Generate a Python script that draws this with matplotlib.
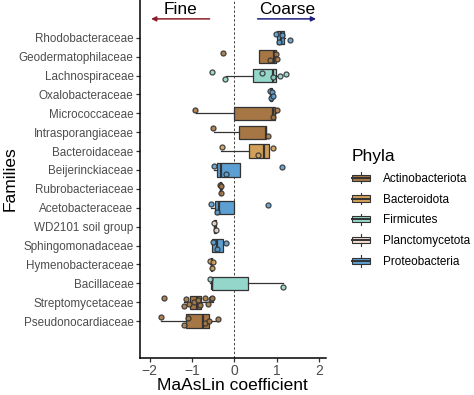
import numpy as np
import matplotlib
matplotlib.use("Agg")
import matplotlib.pyplot as plt
from matplotlib.patches import Patch, Rectangle
from matplotlib.lines import Line2D
from matplotlib.legend_handler import HandlerBase

plt.rcParams['font.family'] = ['Liberation Sans', 'DejaVu Sans']

# families, top to bottom
families = ["Rhodobacteraceae", "Geodermatophilaceae", "Lachnospiraceae", "Oxalobacteraceae",
            "Micrococcaceae", "Intrasporangiaceae", "Bacteroidaceae", "Beijerinckiaceae",
            "Rubrobacteriaceae", "Acetobacteraceae", "WD2101 soil group", "Sphingomonadaceae",
            "Hymenobacteraceae", "Bacillaceae", "Streptomycetaceae", "Pseudonocardiaceae"]
phylum = ["Proteobacteria", "Actinobacteriota", "Firmicutes", "Proteobacteria",
          "Actinobacteriota", "Actinobacteriota", "Bacteroidota", "Proteobacteria",
          "Actinobacteriota", "Proteobacteria", "Planctomycetota", "Proteobacteria",
          "Bacteroidota", "Firmicutes", "Actinobacteriota", "Actinobacteriota"]

# box stats
q1 = [1.01, 0.58, 0.44, 0.85, 0.00, 0.11, 0.34, -0.41, -0.34, -0.45, -0.48, -0.52, -0.56, -0.54, -1.05, -1.15]
med = [1.10, 0.93, 0.91, 0.87, 0.91, 0.74, 0.69, -0.32, -0.32, -0.36, -0.46, -0.41, -0.54, -0.52, -0.88, -0.74]
q3 = [1.18, 0.99, 0.97, 0.89, 0.96, 0.75, 0.81, 0.12, -0.31, -0.01, -0.44, -0.27, -0.52, 0.32, -0.78, -0.60]
wlo = [1.00, 0.58, -0.20, 0.84, -0.91, -0.49, -0.31, -0.47, -0.35, -0.56, -0.49, -0.52, -0.58, -0.57, -1.19, -1.74]
whi = [1.19, 0.99, 1.00, 0.90, 0.97, 0.75, 0.81, 0.12, -0.30, -0.01, -0.43, -0.27, -0.50, 1.14, -0.50, -0.39]

# sample points
points = [
    [0.97, 1.04, 1.12, 1.32],
    [-0.26, 0.85, 0.97, 1.0],
    [-0.54, -0.22, 0.65, 0.9, 1.07, 1.22],
    [0.84, 0.86, 0.88, 0.9],
    [-0.92, 0.9, 1.0],
    [-0.5, 0.78],
    [-0.3, 0.56, 0.92],
    [-0.47, -0.2, 1.12],
    [-0.34, -0.32, -0.31],
    [-0.56, -0.4, 0.79],
    [-0.47, -0.44],
    [-0.5, -0.4, -0.2],
    [-0.57, -0.53, -0.5],
    [-0.57, 1.15],
    [-1.66, -1.18, -1.15, -1.08, -0.95, -0.85, -0.8, -0.7, -0.62, -0.55, -0.52],
    [-1.74, -1.2, -1.1, -0.7, -0.6, -0.38],
]
# small vertical offsets of the jittered points
jit = [0.2, -0.2, 0.15, -0.1, 0.0, 0.1, -0.15, 0.2, -0.1, 0.15]

phyla = ["Actinobacteriota", "Bacteroidota", "Firmicutes", "Planctomycetota", "Proteobacteria"]
colors = ["#A67744", "#D29F58", "#95D6CA", "#F4DDCF", "#5C9FD3"]
cmap = dict(zip(phyla, colors))

fig = plt.figure(figsize=(4.74, 3.95), dpi=100)
ax = fig.add_axes([0.295, 0.094, 0.392, 0.906])

n = len(families)
pos = np.arange(n, 0, -1)
stats = []
for i in range(n):
    stats.append(dict(q1=q1[i], med=med[i], q3=q3[i], whislo=wlo[i], whishi=whi[i], fliers=[]))
bp = ax.bxp(stats, positions=pos, orientation='horizontal', widths=0.7, patch_artist=True,
            showfliers=False, showcaps=False,
            boxprops=dict(edgecolor="#333333", linewidth=0.9),
            whiskerprops=dict(color="#333333", linewidth=0.9),
            medianprops=dict(color="#333333", linewidth=1.6))
for b, p in zip(bp['boxes'], phylum):
    b.set_facecolor(cmap[p])

for i in range(n):
    ys = pos[i] + np.array([jit[k % len(jit)] for k in range(len(points[i]))])
    ax.scatter(points[i], ys, s=13, facecolor=cmap[phylum[i]], edgecolor="#333333",
               linewidth=0.9, alpha=0.9, zorder=4)

ax.axvline(0, color="#444444", linestyle=(0, (2.5, 2)), linewidth=0.7, zorder=1)

ax.set_xlim(-2.23, 2.15)
ax.set_ylim(-0.95, 18.0)
ax.set_yticks(pos)
ax.set_yticklabels(families)
ax.set_xticks([-2, -1, 0, 1, 2])
ax.set_xticklabels(["\u22122", "\u22121", "0", "1", "2"])
ax.tick_params(axis='both', colors="#333333", labelcolor="#4D4D4D", labelsize=8.4, length=3,
               width=0.9, pad=1.5)
ax.tick_params(axis='x', labelsize=10)
for s in ["top", "right"]:
    ax.spines[s].set_visible(False)
for s in ["left", "bottom"]:
    ax.spines[s].set_linewidth(1.1)
ax.set_xlabel("MaAsLin coefficient", fontsize=12.5, labelpad=0)
ax.set_ylabel("Families", fontsize=12.5, labelpad=0.5)

# direction arrows
ax.annotate("", xy=(-2.03, 17.0), xytext=(-0.52, 17.0),
            arrowprops=dict(arrowstyle="-|>", color="#8B1E2A", lw=1.1, mutation_scale=7))
ax.annotate("", xy=(1.99, 17.0), xytext=(0.48, 17.0),
            arrowprops=dict(arrowstyle="-|>", color="#1F1F80", lw=1.1, mutation_scale=7))
ax.text(-1.26, 17.5, "Fine", ha='center', va='center', fontsize=12.5)
ax.text(1.24, 17.5, "Coarse", ha='center', va='center', fontsize=12.5)


class BoxKey(HandlerBase):
    def create_artists(self, legend, orig_handle, xdescent, ydescent, width, height, fontsize, trans):
        cx = width / 2 - xdescent
        cy = height / 2 - ydescent
        w, h = 13, height * 0.75
        arts = [Line2D([cx, cx], [cy - height * 0.7, cy + height * 0.7], color="#333333", lw=0.8, transform=trans),
                Rectangle((cx - w / 2, cy - h / 2), w, h, facecolor=orig_handle.get_facecolor(),
                          edgecolor="#333333", lw=0.8, transform=trans),
                Line2D([cx - w / 2, cx + w / 2], [cy, cy], color="#333333", lw=1.4, transform=trans)]
        return arts


handles = [Patch(facecolor=c) for c in colors]
leg = fig.legend(handles, phyla, handler_map={Patch: BoxKey()}, loc='center left',
                 bbox_to_anchor=(0.72, 0.472), frameon=False, title="Phyla",
                 fontsize=8.5, title_fontsize=12.5, handlelength=1.6, handletextpad=1.0,
                 labelspacing=0.75)
leg._legend_box.align = "left"

fig.savefig("out.png", dpi=100)
